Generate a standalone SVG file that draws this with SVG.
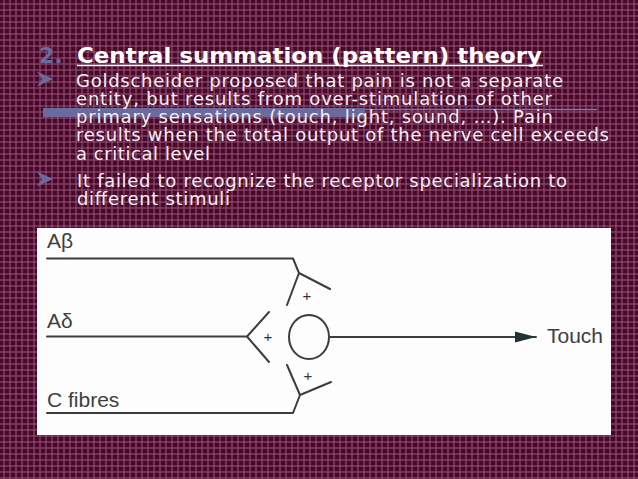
<svg xmlns="http://www.w3.org/2000/svg" width="638" height="479" viewBox="0 0 638 479">
<defs>
<pattern id="grid" x="3.5" y="3.5" width="6" height="6" patternUnits="userSpaceOnUse">
<rect width="6" height="6" fill="#4a0829"/>
<path d="M0 0.5H6M0.5 0V6" stroke="#98587c" stroke-width="1"/>
</pattern>
<marker id="arr" markerWidth="22" markerHeight="12" refX="21" refY="6" orient="auto" markerUnits="userSpaceOnUse">
<path d="M0 0.5L21 6L0 11.5Z" fill="#223333"/>
</marker>
<style>
.body{font-family:"DejaVu Sans",Verdana,sans-serif;font-size:18px;fill:#f4eef2}
.title{font-family:"DejaVu Sans",Verdana,sans-serif;font-size:22px;font-weight:bold;fill:#ffffff}
.num{font-family:"DejaVu Sans",Verdana,sans-serif;font-size:22px;font-weight:bold;fill:#6b6a9c}
.lbl{font-family:"Liberation Sans",Arial,sans-serif;font-size:21px;fill:#404040}
.plus{font-family:"Liberation Sans",Arial,sans-serif;font-size:15px;fill:#333333;text-anchor:middle}
.ln{fill:none;stroke:#3c3c3c;stroke-width:2;stroke-linecap:round;stroke-linejoin:round}
.bul{fill:#6b6a9c}
</style>
</defs>
<rect width="638" height="479" fill="url(#grid)"/>

<g id="slide-text">
<text class="num" x="39" y="63">2.</text>
<text class="title" x="77" y="63" textLength="465" lengthAdjust="spacingAndGlyphs">Central summation (pattern) theory</text>
<line x1="77" y1="65.5" x2="543" y2="65.5" stroke="#ffffff" stroke-width="1.5"/>
<rect x="43" y="108" width="322" height="9" fill="#6b6a9c"/>
<line x1="365" y1="109.5" x2="597" y2="109.5" stroke="#7a78a8" stroke-width="1.5"/>
<polygon class="bul" points="37,71.5 53,79 37,86.5 42,79"/>
<polygon class="bul" points="37,171.5 53,179 37,186.5 42,179"/>
<text class="body" x="76" y="87" textLength="487" lengthAdjust="spacing">Goldscheider proposed that pain is not a separate</text>
<text class="body" x="76" y="105" textLength="476" lengthAdjust="spacing">entity, but results from over-stimulation of other</text>
<text class="body" x="76" y="123" textLength="477" lengthAdjust="spacing">primary sensations (touch, light, sound, …). Pain</text>
<text class="body" x="76" y="141" textLength="533" lengthAdjust="spacing">results when the total output of the nerve cell exceeds</text>
<text class="body" x="76" y="160" textLength="134" lengthAdjust="spacing">a critical level</text>
<text class="body" x="77" y="187" textLength="490" lengthAdjust="spacing">It failed to recognize the receptor specialization to</text>
<text class="body" x="77" y="205" textLength="153" lengthAdjust="spacing">different stimuli</text>
</g>

<rect id="panel" x="37" y="228" width="574" height="207" fill="#fdfdfd"/>

<g id="ab-fibre">
<text class="lbl" x="47" y="248">Aβ</text>
<text class="plus" x="307" y="301">+</text>
</g>
<g id="ad-fibre">
<text class="lbl" x="47" y="328">Aδ</text>
<text class="plus" x="268" y="342">+</text>
</g>
<g id="c-fibre">
<text class="lbl" x="47" y="407">C fibres</text>
<text class="plus" x="308" y="381">+</text>
</g>
<g id="cell">
<ellipse cx="309" cy="337" rx="20" ry="22" fill="none" stroke="#3c3c3c" stroke-width="2"/>
</g>
<g id="touch">
<text class="lbl" x="547" y="343">Touch</text>
</g>

<g id="connectors">
<path class="ln" d="M47 258.5H293L299 273L287 305M299 273L330 289"/>
<path class="ln" d="M47 336.5H247M269 312L247 336.5L269 362"/>
<path class="ln" d="M47 413H293L300 395L287 365M300 395L331 382"/>
<path class="ln" d="M329 337H536" marker-end="url(#arr)"/>
</g>
</svg>
